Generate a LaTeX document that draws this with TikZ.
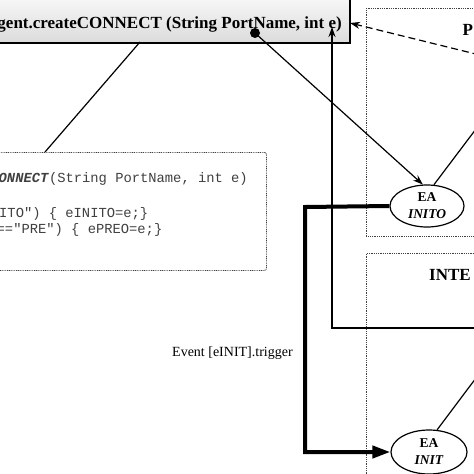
\documentclass[tikz,border=0pt]{standalone}
\usepackage{fontspec}
\setmainfont{Liberation Serif}
\setmonofont{Liberation Mono}
\usetikzlibrary{shapes.geometric,arrows.meta}
\begin{document}
\begin{tikzpicture}[x=1pt,y=-1pt,
  topbox/.style={draw=black, line width=1.5pt, top color=gray!3, bottom color=gray!28, inner sep=0pt, anchor=north west},
  dotbox/.style={draw=black!75, line width=0.9pt, dash pattern=on 0.9pt off 0.9pt, anchor=north west, inner sep=0pt},
  eabox/.style={ellipse, draw, line width=1.2pt, fill=white, inner sep=0pt, align=center, font=\bfseries\fontsize{13.5}{17}\selectfont},
  conn/.style={line width=1.2pt},
  arr/.style={conn, -{Stealth[length=10pt,width=7pt]}},
  heavy/.style={line width=4pt},
  boldlbl/.style={font=\bfseries\fontsize{17}{20}\selectfont, inner sep=0pt, anchor=base west},
  codetxt/.style={font=\ttfamily\fontsize{13.8}{16}\selectfont, text=black!75, inner sep=0pt, anchor=base west}
]
\useasboundingbox (0,0) rectangle (474,474);
\fill[white] (0,0) rectangle (474,474);

% dotted boxes
\node[dotbox, minimum width=130pt, minimum height=228pt] (pbox) at (366,8) {};
\node[dotbox, minimum width=130pt, minimum height=240pt] (ibox) at (366,253) {};
\node[boldlbl] (ptxt) at (462.5,35) {P};
\node[boldlbl] (itxt) at (429,280) {INTE};

% code box
\node[dotbox, rounded corners=2pt, minimum width=276pt, minimum height=118pt] (code) at (-10,152) {};
\node[codetxt] (c1) at (-1.5,182) {\textbf{\textit{ONNECT}}(String PortName, int e)};
\node[codetxt] (c2) at (-1,217) {ITO") \{ eINITO=e;\}};
\node[codetxt] (c3) at (-3.5,233) {=="PRE") \{ ePREO=e;\}};

% top box
\node[topbox, minimum width=359pt, minimum height=52pt] (top) at (-10,-10) {};
\node[font=\bfseries\fontsize{17}{20}\selectfont, inner sep=0pt, anchor=base east] (toptxt) at (342,28.5) {gent.createCONNECT (String PortName, int e)};

% ellipses
\node[eabox, minimum width=74pt, minimum height=42pt] (ea1) at (427,206) {EA\\\textit{INITO}};
\node[eabox, minimum width=76pt, minimum height=44pt] (ea2) at (429,452) {EA\\\textit{INIT}};

% event label
\node[font=\fontsize{14}{17}\selectfont, inner sep=0pt, anchor=base west] (ev) at (172,356) {Event [eINIT].trigger};

% coordinates
\coordinate (tb) at (140,42);
\coordinate (cb) at (45,152);
\coordinate (dot) at (255,33);
\coordinate (etip) at (332,27);
\coordinate (rin) at (490,328);
\coordinate (rcorner) at (332,328);
\coordinate (dstart) at (490,57.5);
\coordinate (dtip) at (350,23);
\coordinate (r1) at (482,121);
\coordinate (r2) at (482,370);
\coordinate (bend) at (305,207);

% connectors
\draw[conn] (tb) -- (cb);
\fill (dot) circle (5pt);
\draw[arr] (dot) -- (ea1.101);
\draw[conn] (ea1.72) -- (r1);
\draw[conn] (ea2.70) -- (r2);
\draw[arr] (rin) -- (rcorner) -- (etip);
\draw[conn, dash pattern=on 7pt off 4pt, -{Stealth[length=10pt,width=7pt]}] (dstart) -- (dtip);
\draw[heavy, -{Triangle[length=18pt,width=12pt]}] (ea1.west) -- (bend) |- (ea2.west);
\end{tikzpicture}
\end{document}
